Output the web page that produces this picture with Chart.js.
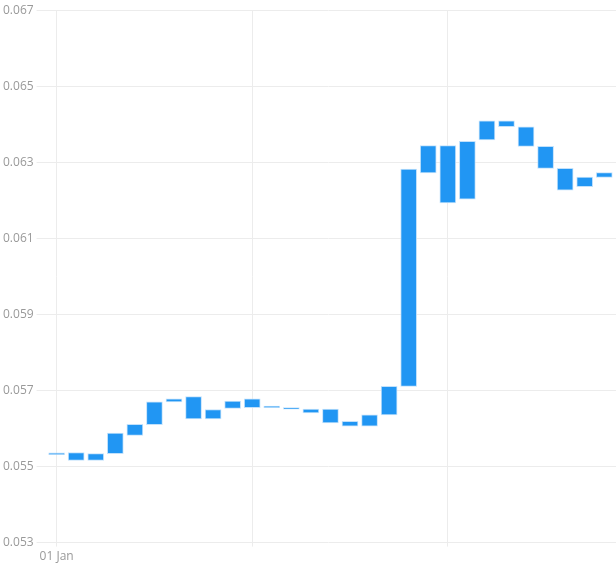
<!DOCTYPE html>
<html>
<head>
<script src="https://cdn.jsdelivr.net/npm/chart.js@4"></script>
<style>
  html, body { margin: 0; padding: 0; background: #fff; }
  #wrap { width: 616px; height: 581px; }
</style>
</head>
<body>
<div id="wrap"><canvas id="chart"></canvas></div>
<script>
const opens = [0.05536, 0.05537, 0.05534, 0.05534, 0.05582, 0.05610, 0.05670, 0.05684, 0.05650, 0.05653,
  0.05655, 0.05659, 0.05655, 0.05651, 0.05651, 0.05619, 0.05606, 0.05636, 0.05711, 0.06272,
  0.06344, 0.06203, 0.06359, 0.06409, 0.06393, 0.06342, 0.06284, 0.06236, 0.06260];
const closes = [0.05531, 0.05516, 0.05516, 0.05588, 0.05611, 0.05670, 0.05678, 0.05625, 0.05625, 0.05672,
  0.05678, 0.05655, 0.05651, 0.05641, 0.05615, 0.05606, 0.05636, 0.05711, 0.06282, 0.06344,
  0.06193, 0.06355, 0.06409, 0.06394, 0.06342, 0.06284, 0.06227, 0.06261, 0.06273];
const xLabels = { 0: '01 Jan' };

const points = opens.map((o, i) => ({ x: i, y: [o, closes[i]] }));

new Chart(document.getElementById('chart').getContext('2d'), {
  type: 'bar',
  data: {
    datasets: [{
      data: points,
      backgroundColor: '#2196F3',
      borderColor: 'rgba(187, 222, 251, 0.9)',
      borderWidth: 1,
      borderSkipped: false,
      barThickness: 16
    }]
  },
  options: {
    responsive: true,
    maintainAspectRatio: false,
    animation: false,
    layout: { padding: { top: 0, right: 0, bottom: 14, left: 0 } },
    plugins: { legend: { display: false }, tooltip: { enabled: false } },
    scales: {
      x: {
        type: 'linear',
        offset: false,
        min: -0.82,
        max: 28.6,
        grid: { color: '#ececec', offset: false, tickLength: 4 },
        border: { display: false },
        ticks: {
          color: '#999',
          font: { size: 12, family: '"Open Sans", sans-serif' },
          callback: v => xLabels[v] || ''
        },
        afterBuildTicks: axis => { axis.ticks = [0, 10, 20].map(v => ({ value: v })); }
      },
      y: {
        min: 0.053,
        max: 0.067,
        grid: { color: '#ececec', tickLength: 4 },
        border: { display: false },
        ticks: {
          stepSize: 0.002,
          color: '#999',
          font: { size: 12, family: '"Open Sans", sans-serif' },
          callback: v => v.toFixed(3)
        }
      }
    }
  }
});
</script>
</body>
</html>
